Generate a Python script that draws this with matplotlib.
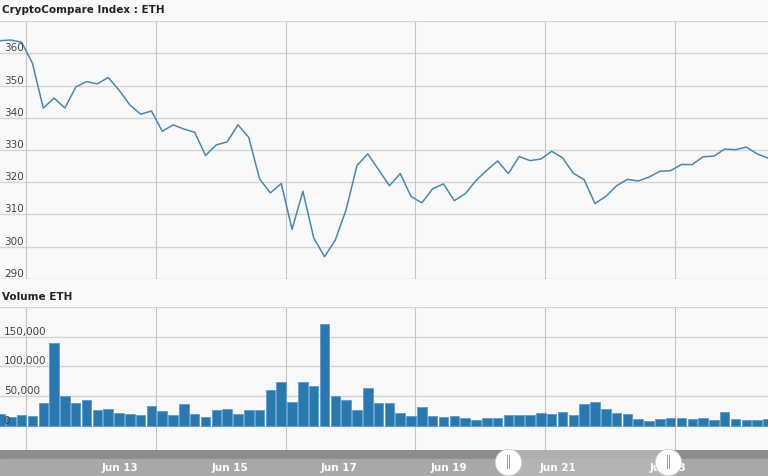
import matplotlib.pyplot as plt
import matplotlib.transforms as mtransforms
import numpy as np

# ETH price, 2-hour steps
price = [
    363.9, 364.1, 363.4, 356.9, 343.0, 346.1, 343.0, 349.5, 351.2, 350.5,
    352.5, 348.6, 344.0, 341.1, 342.1, 335.8, 337.8, 336.5, 335.5, 328.3,
    331.6, 332.5, 337.8, 333.9, 321.0, 316.7, 319.6, 305.4, 317.2, 302.8,
    296.9, 302.1, 311.5, 325.2, 328.8, 323.9,
    318.9, 322.7, 315.6, 313.6, 318.0, 319.5, 314.3, 316.4, 320.5, 323.7,
    326.6, 322.7, 328.0, 326.7, 327.2, 329.6, 327.6, 322.8, 320.8, 313.4,
    315.6, 318.9, 320.9, 320.4, 321.6, 323.4, 323.6, 325.5, 325.5, 327.9,
    328.1, 330.3, 330.1, 330.9, 328.8, 327.5,
]
volume = [
    19000, 14600, 17400, 16300, 37600, 138800, 50000, 37600, 43300, 26400,
    28000, 22000, 20000, 18500, 33000, 24700, 17400, 36500, 20000, 14600,
    26400, 28000, 20000, 26400, 26400, 60000, 74000, 39300, 73000, 67000,
    172000, 50000, 43300, 26400, 64000, 37600,
    37600, 21300, 16300, 32000, 16300, 14600, 16300, 12900, 10000, 12900,
    12900, 17400, 17400, 17400, 22000, 19000, 23000, 17400, 36500, 39300,
    28000, 21300, 19000, 11800, 7300, 11800, 12900, 12900, 11800, 12900,
    10000, 23000, 11800, 9000, 10000, 10500,
]
price_ticks = [290, 300, 310, 320, 330, 340, 350, 360]
vol_ticks = [0, 50000, 100000, 150000]
vol_labels = ["0", "50,000", "100,000", "150,000"]
day_labels = ["Jun 13", "Jun 15", "Jun 17", "Jun 19", "Jun 21", "Jun 23"]

BG = "#f9f9f9"
LINE = "#4a86b4"
BAR = "#2a78b0"
W, H = 768, 476

x = np.arange(len(price))
xmax = len(price) - 1
day_lines = np.arange(2.4, xmax, 12)

fig = plt.figure(figsize=(W / 100, H / 100), dpi=100, facecolor=BG)


def pane(top, bottom):
    return fig.add_axes([0, 1 - bottom / H, 1, (bottom - top) / H], facecolor=BG)


def style(ax, ticks, labels):
    ax.set_xlim(0, xmax)
    for s in ax.spines.values():
        s.set_visible(False)
    ax.set_xticks([])
    ax.set_yticks([])
    for t in ticks:
        ax.axhline(t, color="#d4d4d4", lw=1, zorder=0)
    for d in day_lines:
        ax.axvline(d, color="#c4c4c4", lw=0.8, zorder=0)
    tr = mtransforms.blended_transform_factory(ax.transAxes, ax.transData)
    for t, lab in zip(ticks, labels):
        ax.text(0.005, t, lab, transform=tr, fontsize=7.5, color="#444",
                va="bottom", ha="left", zorder=5)


ax1 = pane(21, 279)
ax1.set_ylim(290, 370)
style(ax1, price_ticks, [str(t) for t in price_ticks])
ax1.plot(x, price, color=LINE, lw=1.1, zorder=3)
ax1.axhline(370, color="#d4d4d4", lw=1)

ax2 = pane(307, 450)
ax2.set_ylim(-41000, 200000)
style(ax2, vol_ticks, vol_labels)
ax2.axhline(200000, color="#d4d4d4", lw=1)
ax2.bar(x, volume, width=0.88, color=BAR, edgecolor="#5b9ccc", lw=0.6, zorder=3)

# navigator strip
ax3 = pane(450, 476)
ax3.set_xlim(0, W)
ax3.set_ylim(0, 1)
ax3.axis("off")
ax3.add_patch(plt.Rectangle((0, 0), W, 1, color="#8c8c8c", zorder=0))
ax3.add_patch(plt.Rectangle((0, 0), W, 0.65, color="#a8a8a8", zorder=1))
ax3.add_patch(plt.Rectangle((508, 0), 160, 1, color="#b8b8b8", alpha=0.8, zorder=2))
for i, lab in enumerate(day_labels):
    px = 120 + 109.6 * i
    ax3.text(px, 0.3, lab, fontsize=7.5, color="white", ha="center",
             va="center", weight="bold", zorder=3)
for hx in (508, 668):
    ax3.plot([hx], [0.55], "o", ms=19, color="white", mec="#cccccc", mew=0.5,
             zorder=4, clip_on=False)
    ax3.plot([hx - 1.2, hx - 1.2], [0.3, 0.8], color="#999", lw=0.7, zorder=5)
    ax3.plot([hx + 1.2, hx + 1.2], [0.3, 0.8], color="#999", lw=0.7, zorder=5)

fig.text(2 / W, 1 - 10 / H, "CryptoCompare Index : ETH", fontsize=7.5,
         weight="bold", color="#222", va="center")
fig.text(2 / W, 1 - 297 / H, "Volume ETH", fontsize=7.5,
         weight="bold", color="#222", va="center")

fig.savefig("out.png", dpi=100, facecolor=BG)
